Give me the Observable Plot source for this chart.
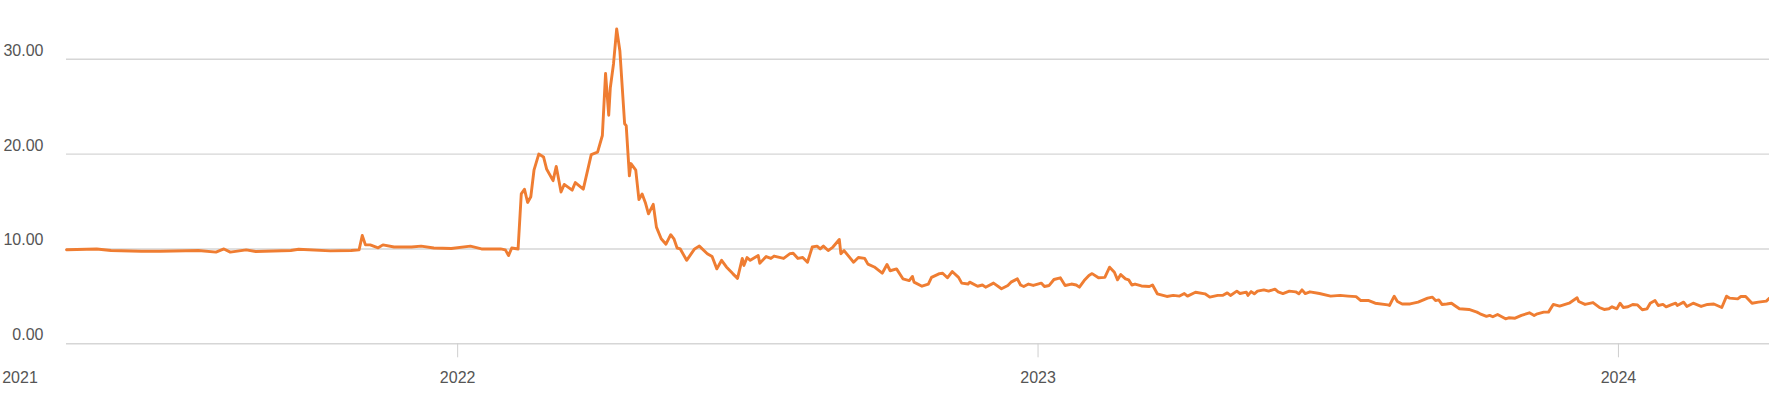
<!DOCTYPE html>
<html>
<head>
<meta charset="utf-8">
<script src="https://cdn.jsdelivr.net/npm/d3@7"></script>
<script src="https://cdn.jsdelivr.net/npm/@observablehq/plot@0.6"></script>
<style>
  html, body { margin: 0; padding: 0; background: #fff; }
  #chart svg { display: block; }
</style>
</head>
<body>
<div id="chart"></div>
<script>
const dates = [
"2021-04-30","2021-05-19","2021-05-28","2021-06-16","2021-06-28","2021-07-22","2021-08-02","2021-08-07","2021-08-11","2021-08-21",
"2021-08-27","2021-09-18","2021-09-23","2021-10-13","2021-10-26","2021-10-31","2021-11-02","2021-11-04","2021-11-07","2021-11-12",
"2021-11-15","2021-11-22","2021-12-03","2021-12-09","2021-12-17","2021-12-28","2022-01-09","2022-01-16","2022-01-28","2022-01-31",
"2022-02-02","2022-02-04","2022-02-08","2022-02-10","2022-02-12","2022-02-14","2022-02-16","2022-02-18","2022-02-21","2022-02-24",
"2022-02-26","2022-03-02","2022-03-04","2022-03-07","2022-03-09","2022-03-14","2022-03-16","2022-03-21","2022-03-26","2022-03-30",
"2022-04-02","2022-04-04","2022-04-06","2022-04-07","2022-04-09","2022-04-11","2022-04-13","2022-04-16","2022-04-17","2022-04-19",
"2022-04-20","2022-04-23","2022-04-25","2022-04-27","2022-04-29","2022-05-01","2022-05-04","2022-05-06","2022-05-09","2022-05-12",
"2022-05-15","2022-05-17","2022-05-19","2022-05-21","2022-05-25","2022-05-30","2022-06-02","2022-06-07","2022-06-10","2022-06-13",
"2022-06-16","2022-06-19","2022-06-23","2022-06-26","2022-06-29","2022-06-30","2022-07-02","2022-07-04","2022-07-09","2022-07-10",
"2022-07-14","2022-07-17","2022-07-19","2022-07-25","2022-07-29","2022-07-31","2022-08-03","2022-08-06","2022-08-09","2022-08-12",
"2022-08-15","2022-08-17","2022-08-19","2022-08-22","2022-08-25","2022-08-29","2022-08-30","2022-09-01","2022-09-05","2022-09-07",
"2022-09-10","2022-09-14","2022-09-16","2022-09-20","2022-09-25","2022-09-28","2022-09-30","2022-10-04","2022-10-08","2022-10-12",
"2022-10-14","2022-10-15","2022-10-20","2022-10-24","2022-10-26","2022-10-31","2022-11-02","2022-11-05","2022-11-08","2022-11-12",
"2022-11-14","2022-11-18","2022-11-19","2022-11-24","2022-11-27","2022-11-29","2022-12-04","2022-12-09","2022-12-13","2022-12-15",
"2022-12-19","2022-12-21","2022-12-23","2022-12-26","2022-12-29","2023-01-03","2023-01-05","2023-01-08","2023-01-11","2023-01-15",
"2023-01-18","2023-01-22","2023-01-25","2023-01-27","2023-01-30","2023-02-02","2023-02-04","2023-02-08","2023-02-12","2023-02-15",
"2023-02-18","2023-02-20","2023-02-22","2023-02-25","2023-02-27","2023-03-01","2023-03-03","2023-03-07","2023-03-12","2023-03-14",
"2023-03-17","2023-03-23","2023-03-27","2023-03-31","2023-04-03","2023-04-05","2023-04-10","2023-04-16","2023-04-19","2023-04-24",
"2023-04-27","2023-04-30","2023-05-02","2023-05-06","2023-05-08","2023-05-12","2023-05-13","2023-05-15","2023-05-17","2023-05-19",
"2023-05-23","2023-05-26","2023-05-30","2023-06-01","2023-06-04","2023-06-08","2023-06-12","2023-06-14","2023-06-16","2023-06-18",
"2023-06-21","2023-06-27","2023-07-04","2023-07-10","2023-07-15","2023-07-20","2023-07-23","2023-07-28","2023-08-01","2023-08-09",
"2023-08-10","2023-08-13","2023-08-15","2023-08-18","2023-08-23","2023-08-28","2023-09-03","2023-09-06","2023-09-08","2023-09-10",
"2023-09-12","2023-09-15","2023-09-18","2023-09-20","2023-09-23","2023-09-29","2023-10-04","2023-10-06","2023-10-10","2023-10-12",
"2023-10-14","2023-10-17","2023-10-22","2023-10-24","2023-10-28","2023-11-01","2023-11-06","2023-11-09","2023-11-11","2023-11-15",
"2023-11-18","2023-11-21","2023-11-25","2023-12-01","2023-12-06","2023-12-07","2023-12-11","2023-12-16","2023-12-20","2023-12-23",
"2023-12-26","2023-12-28","2023-12-31","2024-01-02","2024-01-04","2024-01-07","2024-01-10","2024-01-13","2024-01-16","2024-01-19",
"2024-01-21","2024-01-24","2024-01-26","2024-01-29","2024-01-31","2024-02-03","2024-02-06","2024-02-07","2024-02-11","2024-02-13",
"2024-02-17","2024-02-22","2024-02-26","2024-03-01","2024-03-06","2024-03-09","2024-03-11","2024-03-16","2024-03-18","2024-03-21",
"2024-03-25","2024-03-29","2024-04-03","2024-04-05"
];

const values = [
9.91,10.0,9.83,9.76,9.76,9.83,9.66,10.0,9.66,9.9,
9.73,9.83,9.97,9.8,9.83,9.9,11.42,10.43,10.43,10.12,
10.43,10.2,10.2,10.3,10.1,10.05,10.3,10.0,10.0,9.9,
9.3,10.1,10.0,15.8,16.3,14.9,15.5,18.3,20.0,19.7,
18.4,17.2,18.7,16.0,16.8,16.2,17.0,16.3,19.95,20.2,
21.96,28.5,24.1,27.0,29.5,33.2,30.9,23.2,23.0,17.7,
19.0,18.3,15.2,15.8,14.9,13.7,14.7,12.3,11.07,10.5,
11.5,11.07,10.1,10.0,8.8,10.0,10.3,9.5,9.2,7.9,
8.8,8.1,7.4,6.9,9.0,8.25,9.1,8.8,9.3,8.5,
9.2,9.0,9.25,9.0,9.5,9.55,9.0,9.1,8.6,10.2,
10.3,10.0,10.3,9.83,10.2,11.0,9.5,9.83,9.0,8.6,
9.1,9.0,8.4,8.1,7.44,8.36,7.7,7.9,6.85,6.67,
7.1,6.5,6.07,6.3,7.0,7.4,7.44,6.96,7.62,7.0,
6.4,6.3,6.5,6.07,6.2,5.97,6.4,5.8,6.15,6.5,
6.85,6.2,6.04,6.3,6.15,6.4,6.04,6.15,6.78,6.96,
6.15,6.3,6.2,5.97,6.67,7.2,7.4,6.96,7.0,8.08,
7.55,6.74,7.3,6.85,6.74,6.2,6.3,6.1,6.04,6.2,
5.27,4.99,5.1,5.03,5.3,5.03,5.44,5.27,4.92,5.1,
5.1,5.37,5.1,5.55,5.3,5.44,5.1,5.5,5.27,5.55,
5.69,5.55,5.76,5.48,5.3,5.55,5.48,5.27,5.69,5.3,
5.48,5.3,5.03,5.1,5.03,4.97,4.56,4.56,4.28,4.1,
4.04,5.02,4.46,4.2,4.2,4.39,4.81,4.92,4.56,4.63,
4.15,4.2,4.28,4.04,3.69,3.62,3.34,3.16,2.9,2.99,
2.85,3.09,2.63,2.74,2.7,2.99,3.27,2.99,3.16,3.34,
3.34,4.15,3.97,4.28,4.85,4.46,4.15,4.35,3.83,3.62,
3.69,3.9,3.69,4.28,3.83,3.9,4.15,4.1,3.59,3.69,
4.28,4.56,4.04,4.15,3.9,4.1,4.28,4.04,4.39,3.94,
4.28,3.94,4.15,4.2,3.83,5.02,4.81,4.74,4.99,4.99,
4.28,4.39,4.5,4.81
];

const yTicks = [0, 10, 20, 30];
const xTickYears = ["2022-01-01", "2023-01-01", "2024-01-01"];
const startLabel = "2021";

const parse = d3.utcParse("%Y-%m-%d");
const data = dates.map((d, i) => ({date: parse(d), value: values[i]}));
const xTicks = xTickYears.map(parse);

const font = "'Liberation Sans', Arial, sans-serif";

const chart = Plot.plot({
  width: 1769,
  height: 402,
  marginLeft: 66,
  marginRight: 0,
  marginTop: 11.3,
  marginBottom: 58.7,
  style: {fontFamily: font, fontSize: "16px", color: "#555", background: "#fff"},
  x: {type: "utc", domain: [data[0].date, data[data.length - 1].date]},
  y: {domain: [0, 35]},
  marks: [
    Plot.ruleY(yTicks, {stroke: "#d6d6d6", strokeWidth: 1.4}),
    Plot.axisY({
      ticks: yTicks, tickSize: 0, tickPadding: 23, dy: -8.6,
      tickFormat: d => d.toFixed(2), label: null, fontSize: 16, fill: "#555"
    }),
    Plot.axisX({
      ticks: xTicks, tickSize: 14, tickPadding: 14,
      tickFormat: d3.utcFormat("%Y"), label: null, stroke: "#cfcfcf", fill: "#555", fontSize: 16
    }),
    Plot.text([startLabel], {
      text: d => d, frameAnchor: "bottom-left", textAnchor: "start", lineAnchor: "top",
      dx: -64.3, dy: 28, fontSize: 16, fill: "#555"
    }),
    Plot.lineY(data, {x: "date", y: "value", stroke: "#ef7d32", strokeWidth: 2.9, strokeLinejoin: "round"})
  ]
});

document.getElementById("chart").appendChild(chart);
</script>
</body>
</html>
